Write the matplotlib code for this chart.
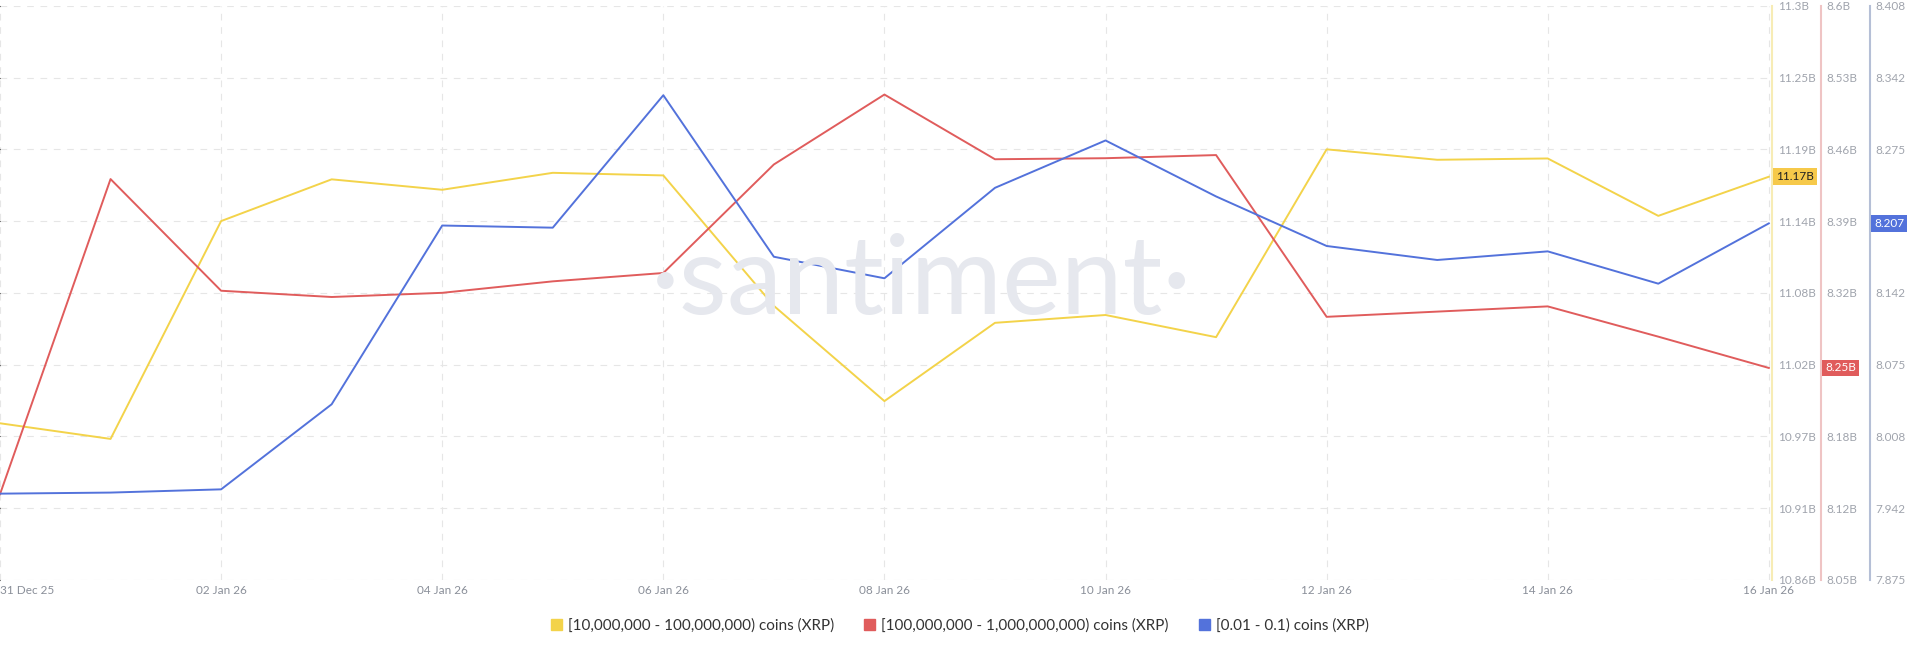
import matplotlib
matplotlib.use("Agg")
import matplotlib.pyplot as plt
import numpy as np
from matplotlib.patches import Patch

dates = ["31 Dec 25","01 Jan 26","02 Jan 26","03 Jan 26","04 Jan 26","05 Jan 26","06 Jan 26","07 Jan 26",
         "08 Jan 26","09 Jan 26","10 Jan 26","11 Jan 26","12 Jan 26","13 Jan 26","14 Jan 26","15 Jan 26","16 Jan 26"]
yellow = [10.980,10.968,11.135,11.167,11.159,11.172,11.170,11.070,10.997,11.057,11.063,11.046,11.190,11.182,11.183,11.139,11.169]
red = [8.132,8.434,8.327,8.321,8.325,8.336,8.344,8.448,8.515,8.453,8.454,8.457,8.302,8.307,8.312,8.283,8.253]
blue = [7.955,7.956,7.959,8.038,8.204,8.202,8.325,8.175,8.155,8.239,8.283,8.231,8.185,8.172,8.180,8.150,8.206]
yel_ticks = ["11.3B","11.25B","11.19B","11.14B","11.08B","11.02B","10.97B","10.91B","10.86B"]
red_ticks = ["8.6B","8.53B","8.46B","8.39B","8.32B","8.25B","8.18B","8.12B","8.05B"]
blue_ticks = ["8.408","8.342","8.275","8.207","8.142","8.075","8.008","7.942","7.875"]
labels = ["[10,000,000 - 100,000,000) coins (XRP)","[100,000,000 - 1,000,000,000) coins (XRP)","[0.01 - 0.1) coins (XRP)"]

CY, CR, CB = "#F3D34A", "#E05C5C", "#5372DB"
plt.rcParams['font.family'] = ['Lato', 'DejaVu Sans']
fig = plt.figure(figsize=(19.2, 6.5), dpi=100)
ax = fig.add_axes([0, 0.108, 0.923, 0.883])
x = np.arange(len(dates))
ax.set_xlim(0, 16.03)
ax.set_ylim(10.86, 11.3)
ax.set_yticks(np.linspace(11.3, 10.86, 9))
ax.tick_params(axis='y', left=False, labelleft=False)
ax.set_xticks(x[::2])
ax.set_xticklabels(dates[::2])
ax.tick_params(axis='x', length=0, pad=4, labelsize=8.5, labelcolor="#8a8f99")
ax.get_xticklabels()[0].set_horizontalalignment('left')
ax.grid(True, color="#e6e6e6", ls=(0, (6, 6)), lw=0.8)
for s in ax.spines.values():
    s.set_visible(False)

fig.text(0.48, 0.565, "·santiment·", fontsize=80, color="#e6e8ee", ha='center', va='center', zorder=0)

def right_axis(pos, lo, hi, ticks, spinecolor):
    a = ax.twinx()
    a.set_ylim(lo, hi)
    a.set_yticks(np.linspace(hi, lo, 9))
    a.set_yticklabels(ticks)
    a.tick_params(axis='y', length=0, pad=4, labelsize=8.5, labelcolor="#a0a4ad")
    for k, s in a.spines.items():
        s.set_visible(k == 'right')
    a.spines['right'].set_position(('axes', pos))
    a.spines['right'].set_color(spinecolor)
    a.spines['right'].set_linewidth(1.5)
    a.patch.set_visible(False)
    return a

ay = right_axis(1.0, 10.86, 11.3, yel_ticks, "#f7ecb5")
ar = right_axis(1.0277, 8.05, 8.6, red_ticks, "#efc4c4")
ab = right_axis(1.0553, 7.875, 8.408, blue_ticks, "#b5bfd6")
ay.plot(x, yellow, color=CY, lw=1.4, zorder=3)
ar.plot(x, red, color=CR, lw=1.4, zorder=3)
ab.plot(x, blue, color=CB, lw=1.4, zorder=3)

def badge(a, pos, val, txt, bg, fg):
    a.annotate(txt, xy=(pos, val), xycoords=a.get_yaxis_transform(), xytext=(3, 0),
               textcoords='offset points', va='center', ha='left', fontsize=8.5, color=fg,
               bbox=dict(boxstyle='square,pad=0.25', fc=bg, ec='none'), zorder=10, annotation_clip=False)
badge(ay, 1.0, yellow[-1], "11.17B", "#F6C94A", "#222222")
badge(ar, 1.0277, red[-1], "8.25B", CR, "white")
badge(ab, 1.0553, blue[-1], "8.207", CB, "white")

handles = [Patch(color=c) for c in (CY, CR, CB)]
fig.legend(handles, labels, loc='lower center', bbox_to_anchor=(0.5, 0.005), ncol=3, frameon=False,
           fontsize=11, handlelength=0.7, handleheight=0.7, handletextpad=0.4, columnspacing=2.0,
           labelcolor="#333333")
fig.savefig("out.png", dpi=100, facecolor="white")
